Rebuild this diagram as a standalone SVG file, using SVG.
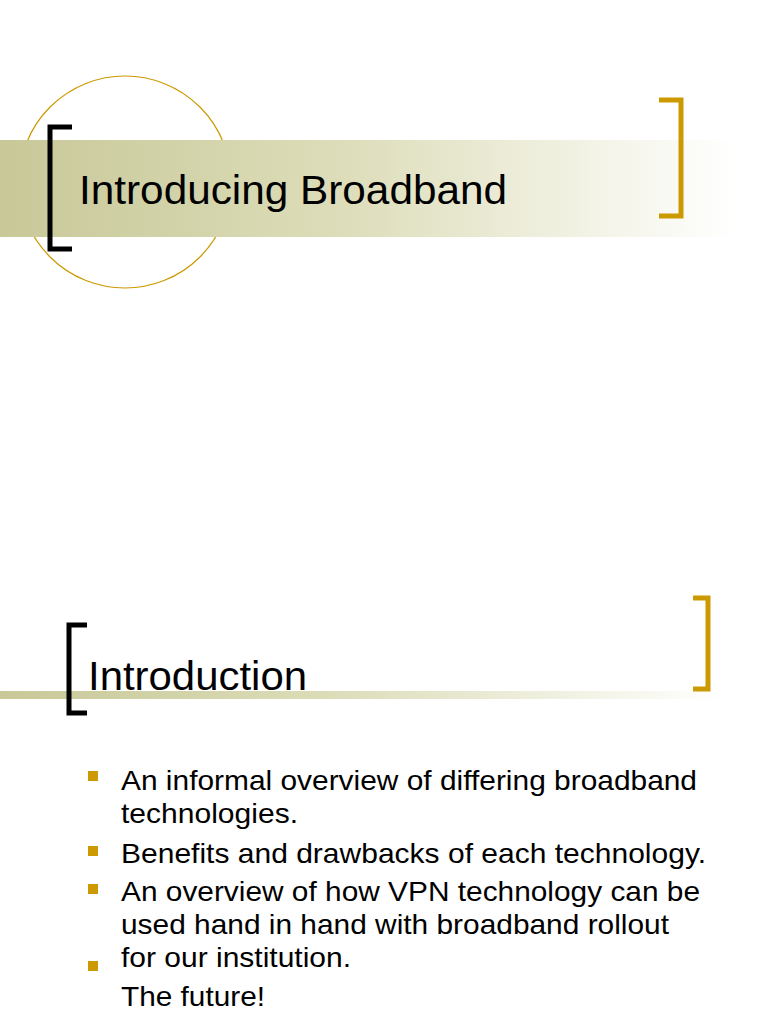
<svg xmlns="http://www.w3.org/2000/svg" width="768" height="1024" viewBox="0 0 768 1024">
<defs>
<linearGradient id="band" x1="0" x2="1" y1="0" y2="0">
<stop offset="0" stop-color="#C8C899"/><stop offset="0.45" stop-color="#DCDCB8"/><stop offset="1" stop-color="#FFFFFF"/>
</linearGradient>
<style>
text{font-family:"Liberation Sans",Arial,sans-serif;fill:#000}
.bk{fill:none;stroke:#000;stroke-width:5}
.gd{fill:none;stroke:#CC9900;stroke-width:5}
.bul{fill:#CC9900}
.t{font-size:28px}
</style>
</defs>
<rect width="768" height="1024" fill="#fff"/>
<circle cx="125" cy="182" r="106" fill="none" stroke="#CC9900" stroke-width="1.2"/>
<rect x="0" y="140" width="735" height="97" fill="url(#band)"/>
<path class="bk" d="M72 127H50V249H72"/>
<path class="gd" d="M659 100H681V216H659"/>
<text x="79" y="204" style="font-size:40px" textLength="428" lengthAdjust="spacingAndGlyphs">Introducing Broadband</text>
<rect x="0" y="691" width="725" height="8" fill="url(#band)"/>
<path class="bk" d="M87 625H69V713H87"/>
<path class="gd" d="M693 598H708V689H693"/>
<text x="88" y="690" style="font-size:40px" textLength="219" lengthAdjust="spacingAndGlyphs">Introduction</text>
<rect class="bul" x="88" y="771" width="10" height="10"/>
<rect class="bul" x="88" y="846" width="10" height="10"/>
<rect class="bul" x="88" y="884" width="10" height="10"/>
<rect class="bul" x="88" y="961" width="10" height="10"/>
<text class="t" x="121" y="790" textLength="576" lengthAdjust="spacingAndGlyphs">An informal overview of differing broadband</text>
<text class="t" x="121" y="823" textLength="177" lengthAdjust="spacingAndGlyphs">technologies.</text>
<text class="t" x="121" y="863" textLength="585" lengthAdjust="spacingAndGlyphs">Benefits and drawbacks of each technology.</text>
<text class="t" x="121" y="901" textLength="579" lengthAdjust="spacingAndGlyphs">An overview of how VPN technology can be</text>
<text class="t" x="121" y="934" textLength="548" lengthAdjust="spacingAndGlyphs">used hand in hand with broadband rollout</text>
<text class="t" x="121" y="967" textLength="230" lengthAdjust="spacingAndGlyphs">for our institution.</text>
<text class="t" x="121" y="1006" textLength="144" lengthAdjust="spacingAndGlyphs">The future!</text>
</svg>
